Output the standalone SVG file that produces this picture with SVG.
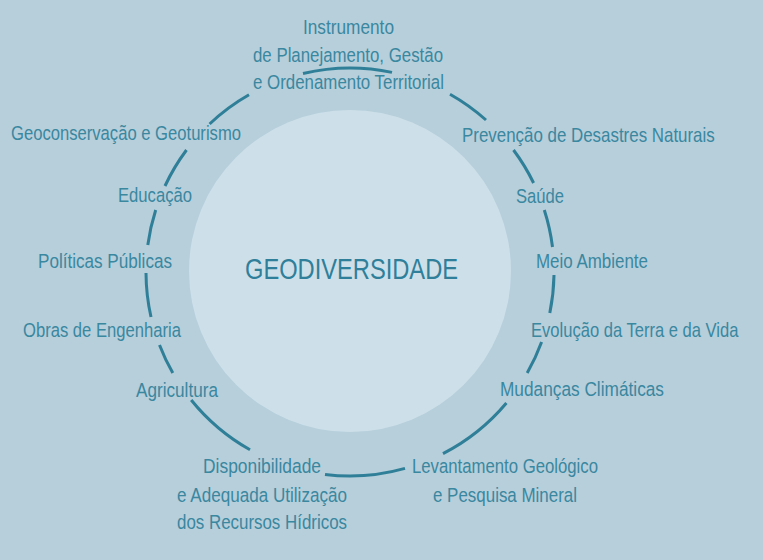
<svg xmlns="http://www.w3.org/2000/svg" width="763" height="560" viewBox="0 0 763 560">
<style>
.bg{fill:#b6cfdb}
.core{fill:#cde0e9}
.ring{fill:none;stroke:#2f7f98;stroke-width:3;stroke-linecap:butt}
.lbl{font-family:"Liberation Sans",Arial,sans-serif;font-size:20.5px;fill:#3a87a0}
.title{font-family:"Liberation Sans",Arial,sans-serif;font-size:30px;fill:#2f7f9a}
</style>
<rect class="bg" x="0" y="0" width="763" height="560"/>
<g id="center">
<circle class="core" cx="350" cy="271" r="161"/>
<text class="title" x="245" y="279" textLength="213" lengthAdjust="spacingAndGlyphs">GEODIVERSIDADE</text>
</g>
<g id="connectors">
<path class="ring" d="M303,73.5 A204,204 0 0 1 392,72.4"/>
<path class="ring" d="M450,94.2 A204,204 0 0 1 486,120"/>
<path class="ring" d="M513.5,150 A204,204 0 0 1 533.6,183"/>
<path class="ring" d="M544.3,210 A204,204 0 0 1 552.5,247"/>
<path class="ring" d="M554,275 A204,204 0 0 1 549.8,313"/>
<path class="ring" d="M541.6,342 A204,204 0 0 1 527.2,373"/>
<path class="ring" d="M506.4,403 A204,204 0 0 1 443,453.6"/>
<path class="ring" d="M405,468.4 A204,204 0 0 1 325,474.5"/>
<path class="ring" d="M250,449.8 A204,204 0 0 1 191.2,400"/>
<path class="ring" d="M172.8,373 A204,204 0 0 1 159.5,345"/>
<path class="ring" d="M151,317 A204,204 0 0 1 146,273"/>
<path class="ring" d="M147.8,245 A204,204 0 0 1 155.7,210"/>
<path class="ring" d="M165,186 A204,204 0 0 1 186.5,150"/>
<path class="ring" d="M209.6,124 A204,204 0 0 1 249,94.8"/>
</g>
<g id="instrumento">
<text class="lbl" x="303" y="34" textLength="91" lengthAdjust="spacingAndGlyphs">Instrumento</text>
<text class="lbl" x="253" y="62" textLength="190" lengthAdjust="spacingAndGlyphs">de Planejamento, Gestão</text>
<text class="lbl" x="253" y="89" textLength="191" lengthAdjust="spacingAndGlyphs">e Ordenamento Territorial</text>
</g>
<g id="prevencao"><text class="lbl" transform="translate(462,142) scale(0.825,1)">Prevenção de Desastres Naturais</text></g>
<g id="saude"><text class="lbl" x="516" y="203" textLength="48" lengthAdjust="spacingAndGlyphs">Saúde</text></g>
<g id="meio-ambiente"><text class="lbl" x="536" y="268" textLength="112" lengthAdjust="spacingAndGlyphs">Meio Ambiente</text></g>
<g id="evolucao"><text class="lbl" transform="translate(531,337) scale(0.808,1)">Evolução da Terra e da Vida</text></g>
<g id="mudancas"><text class="lbl" x="500" y="396" textLength="164" lengthAdjust="spacingAndGlyphs">Mudanças Climáticas</text></g>
<g id="levantamento">
<text class="lbl" x="412" y="473" textLength="186" lengthAdjust="spacingAndGlyphs">Levantamento Geológico</text>
<text class="lbl" x="433" y="502" textLength="144" lengthAdjust="spacingAndGlyphs">e Pesquisa Mineral</text>
</g>
<g id="disponibilidade">
<text class="lbl" x="203" y="473" textLength="118" lengthAdjust="spacingAndGlyphs">Disponibilidade</text>
<text class="lbl" x="177" y="502" textLength="170" lengthAdjust="spacingAndGlyphs">e Adequada Utilização</text>
<text class="lbl" x="177" y="529" textLength="170" lengthAdjust="spacingAndGlyphs">dos Recursos Hídricos</text>
</g>
<g id="agricultura"><text class="lbl" x="136" y="397" textLength="82" lengthAdjust="spacingAndGlyphs">Agricultura</text></g>
<g id="obras"><text class="lbl" x="23" y="337" textLength="158" lengthAdjust="spacingAndGlyphs">Obras de Engenharia</text></g>
<g id="politicas"><text class="lbl" x="38" y="268" textLength="134" lengthAdjust="spacingAndGlyphs">Políticas Públicas</text></g>
<g id="educacao"><text class="lbl" x="118" y="202" textLength="74" lengthAdjust="spacingAndGlyphs">Educação</text></g>
<g id="geoconservacao"><text class="lbl" x="11" y="140" textLength="230" lengthAdjust="spacingAndGlyphs">Geoconservação e Geoturismo</text></g>
</svg>
